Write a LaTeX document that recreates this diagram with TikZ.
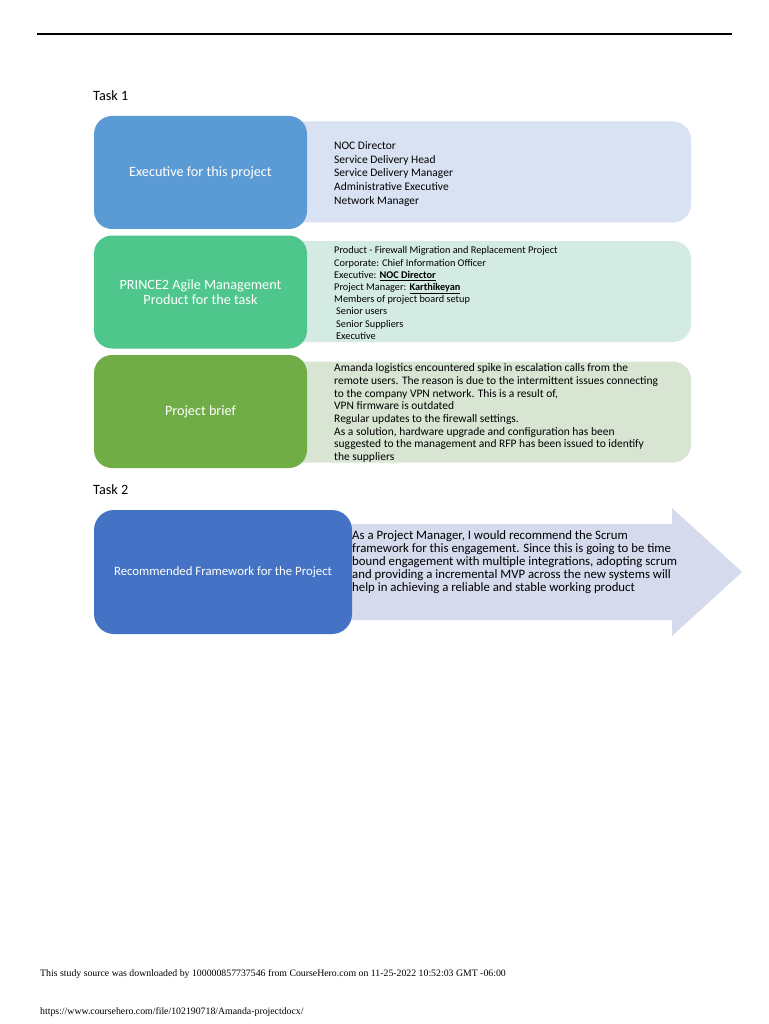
\documentclass[tikz,border=0pt]{standalone}
\usepackage{fontspec}
\setmainfont{Carlito}
\newfontfamily\footfont{Liberation Serif}
\usetikzlibrary{positioning}

\definecolor{execblue}{HTML}{5B9BD5}
\definecolor{execlight}{HTML}{D9E2F3}
\definecolor{princegreen}{HTML}{4FC68C}
\definecolor{princelight}{HTML}{D3EBE2}
\definecolor{briefgreen}{HTML}{70AD47}
\definecolor{brieflight}{HTML}{D9E5D3}
\definecolor{frameblue}{HTML}{4472C4}
\definecolor{framelight}{HTML}{D5DAEC}

\tikzset{
  headbox/.style={rounded corners=18pt, minimum width=213pt, minimum height=113pt,
    text=white, align=center, inner sep=0pt, font=\fontsize{14.2}{15}\selectfont},
  listbox/.style={rounded corners=18pt, minimum width=411pt, minimum height=101pt, inner sep=0pt},
  listtext/.style={anchor=west, align=left, inner sep=0pt},
  tasklabel/.style={anchor=base west, inner sep=0pt, font=\fontsize{14.2}{16}\selectfont}
}

\begin{document}
\begin{tikzpicture}[x=1pt,y=-1pt]
  \useasboundingbox [fill=white] (0,0) rectangle (768,1024);
  \draw [line width=1.2pt] (37,34) -- (732,34);

  \node (task1) [tasklabel] at (93,101) {Task 1};

  % light boxes behind
  \node (execbg) [listbox, fill=execlight] at (485.5,172) {};
  \node (princebg) [listbox, fill=princelight] at (485.5,291.5) {};
  \node (briefbg) [listbox, fill=brieflight] at (485.5,412) {};

  % coloured heads
  \node (exec) [headbox, fill=execblue] at (200.5,172.5) {Executive for this project};
  \node (prince) [headbox, fill=princegreen] at (200.5,292) {PRINCE2 Agile Management\\Product for the task};
  \node (brief) [headbox, fill=briefgreen] at (200.5,411.5) {Project brief};

  \node (execlist) [listtext, font=\fontsize{11.5}{13.7}\selectfont] at (334,174)
    {NOC Director\\Service Delivery Head\\Service Delivery Manager\\Administrative Executive\\Network Manager};
  \node (princelist) [listtext, font=\fontsize{10.3}{12.2}\selectfont] at (334,293)
    {Product - Firewall Migration and Replacement Project\\
     Corporate: Chief Information Officer\\
     Executive: \underline{\textbf{NOC Director}}\\
     Project Manager: \underline{\textbf{Karthikeyan}}\\
     Members of project board setup\\
     \hspace{2pt}Senior users\\
     \hspace{2pt}Senior Suppliers\\
     \hspace{2pt}Executive};
  \node (brieflist) [listtext, font=\fontsize{11.5}{12.7}\selectfont] at (334,413)
    {Amanda logistics encountered spike in escalation calls from the\\
     remote users. The reason is due to the intermittent issues connecting\\
     to the company VPN network. This is a result of,\\
     VPN firmware is outdated\\
     Regular updates to the firewall settings.\\
     As a solution, hardware upgrade and configuration has been\\
     suggested to the management and RFP has been issued to identify\\
     the suppliers};

  \node (task2) [tasklabel] at (93,494) {Task 2};

  % arrow and framework box
  \fill [framelight] (340,524) -- (672,524) -- (672,508) -- (742,572) -- (672,636) -- (672,620) -- (340,620) -- cycle;
  \node (frame) [headbox, fill=frameblue, minimum width=258pt, minimum height=124pt,
    rounded corners=20pt, font=\fontsize{12.8}{14}\selectfont] at (223,572) {Recommended Framework for the Project};
  \node (framelist) [listtext, font=\fontsize{12.8}{13}\selectfont] at (352,562)
    {As a Project Manager, I would recommend the Scrum\\
     framework for this engagement. Since this is going to be time\\
     bound engagement with multiple integrations, adopting scrum\\
     and providing a incremental MVP across the new systems will\\
     help in achieving a reliable and stable working product};

  % footer
  \node (source) [anchor=base west, inner sep=0pt, font=\footfont\fontsize{9.8}{12}\selectfont] at (40,976)
    {This study source was downloaded by 100000857737546 from CourseHero.com on 11-25-2022 10:52:03 GMT -06:00};
  \node (link) [anchor=base west, inner sep=0pt, font=\footfont\fontsize{9.8}{12}\selectfont] at (40,1014)
    {https://www.coursehero.com/file/102190718/Amanda-projectdocx/};
\end{tikzpicture}
\end{document}
